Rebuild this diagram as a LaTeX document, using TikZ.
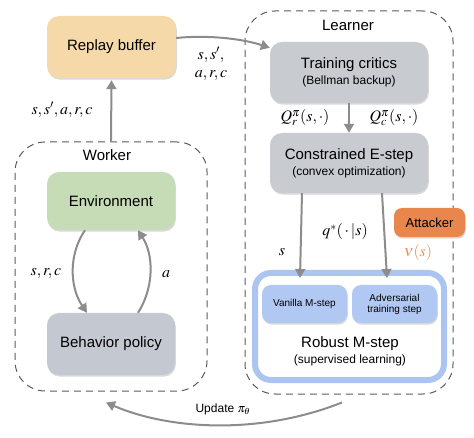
\documentclass[tikz,border=0pt]{standalone}
\usepackage{mathptmx}
\usepackage{fontspec}
\setmainfont{Liberation Sans}
\usetikzlibrary{arrows.meta,shadows}
\definecolor{bufferfill}{HTML}{F6D9A9}
\definecolor{critgray}{HTML}{C8CBCF}
\definecolor{envgreen}{HTML}{C6DCB6}
\definecolor{behgray}{HTML}{C4C9D1}
\definecolor{attorange}{HTML}{E9864B}
\definecolor{mblue}{HTML}{ABC5F0}
\definecolor{innerblue}{HTML}{B0C8F2}
\definecolor{dashgray}{HTML}{5A5A5A}
\definecolor{arrowgray}{HTML}{8C8C8C}
\definecolor{nuorange}{HTML}{E4945A}
\begin{document}
\begin{tikzpicture}[x=1pt,y=-1pt,
  box/.style={rounded corners=12pt, align=center, inner sep=2pt,
    font=\fontsize{15}{18}\selectfont,
    drop shadow={shadow xshift=0.8pt, shadow yshift=-1.6pt, opacity=0.25, fill=black!60}},
  smallbox/.style={box, rounded corners=9pt, fill=innerblue, minimum width=85pt, minimum height=38pt,
    font=\fontsize{10}{12}\selectfont},
  cont/.style={draw=dashgray, dash pattern=on 7pt off 5pt, line width=1pt, rounded corners=30pt},
  arr/.style={draw=arrowgray, line width=2pt, -{Triangle[width=10pt,length=9pt]}},
  mlabel/.style={font=\fontsize{16}{18}\selectfont, inner sep=0pt},
  sub/.style={font=\fontsize{12}{14}\selectfont}
]
\useasboundingbox (0,0) rectangle (474,438);

% containers
\node[cont, minimum width=208pt, minimum height=383pt] (learner) at (349,202.5) {};
\node[cont, minimum width=192pt, minimum height=249pt] (worker) at (111,266.5) {};
\node[font=\fontsize{15}{18}\selectfont] (learnerlbl) at (348,25) {Learner};
\node[font=\fontsize{15}{18}\selectfont] (workerlbl) at (107,155) {Worker};

% nodes
\node[box, fill=bufferfill, minimum width=129pt, minimum height=62pt] (replay) at (111.5,47) {Replay buffer};
\node[box, fill=critgray, minimum width=158pt, minimum height=61pt] (critics) at (349,72.5)
  {Training critics\\[-2pt]{\fontsize{12}{14}\selectfont (Bellman backup)}};
\node[box, fill=critgray, minimum width=158pt, minimum height=60pt] (estep) at (349,163)
  {Constrained E-step\\[-2pt]{\fontsize{12}{14}\selectfont (convex optimization)}};
\node[box, rounded corners=8pt, fill=attorange, minimum width=71pt, minimum height=29pt,
  font=\fontsize{13}{15}\selectfont] (attacker) at (429.5,222.5) {Attacker};

\node[draw=mblue, line width=6pt, rounded corners=16pt, minimum width=189pt, minimum height=107pt] (robust) at (349.5,326.5) {};
\node[smallbox] (vanilla) at (304.5,304) {Vanilla M-step};
\node[smallbox] (adv) at (394.5,304) {Adversarial\\[-1pt]training step};
\node[align=center, font=\fontsize{15}{18}\selectfont] (robustlbl) at (350,351)
  {Robust M-step\\[-2pt]{\fontsize{12}{14}\selectfont (supervised learning)}};

\node[box, fill=envgreen, minimum width=128pt, minimum height=58pt] (env) at (111,201) {Environment};
\node[box, fill=behgray, minimum width=128pt, minimum height=62pt] (beh) at (111,344) {Behavior policy};

% connectors
\draw[arr] (worker.north) -- ([yshift=-2pt]replay.south);
\draw[arr] ([yshift=9pt]replay.east) .. controls (205,35) and (240,38) .. ([yshift=-6pt]critics.north west);
\draw[arr] (critics.south) -- (estep.north);
\draw[arr] ([xshift=-47pt]estep.south) -- ([xshift=-49.5pt,yshift=-8pt]robust.north);
\draw[arr] ([xshift=33pt]estep.south) -- ([xshift=37.5pt,yshift=-8pt]robust.north);
\draw[arr] ([xshift=-26pt]env.south) .. controls +(-17,25) and +(-17,-25) .. ([xshift=-24pt]beh.north);
\draw[arr] ([xshift=27pt]beh.north) .. controls +(16,-25) and +(16,25) .. ([xshift=27pt]env.south);
\draw[arr] ([xshift=-7pt,yshift=-8pt]learner.south) .. controls (260,435) and (170,430) .. ([xshift=-5pt,yshift=-11pt]worker.south);

% labels
\node[mlabel] (l1) at (62,110) {$s, s', a, r, c$};
\node[mlabel, align=center] (l2) at (211,64) {$s, s',$\\$a, r, c$};
\node[mlabel] (l3) at (305,118) {$Q_r^\pi(s,\cdot)$};
\node[mlabel] (l4) at (394,118) {$Q_c^\pi(s,\cdot)$};
\node[mlabel] (l5) at (345,232) {$q^*(\,\cdot\,|s)$};
\node[mlabel] (l6) at (282,252) {$s$};
\node[mlabel, text=nuorange] (l7) at (418,253) {$\nu(s)$};
\node[mlabel] (l8) at (46,274) {$s, r, c$};
\node[mlabel] (l9) at (166,274) {$a$};
\node[font=\fontsize{12}{14}\selectfont, inner sep=0pt] (l10) at (223,409) {Update $\pi_\theta$};
\end{tikzpicture}
\end{document}
